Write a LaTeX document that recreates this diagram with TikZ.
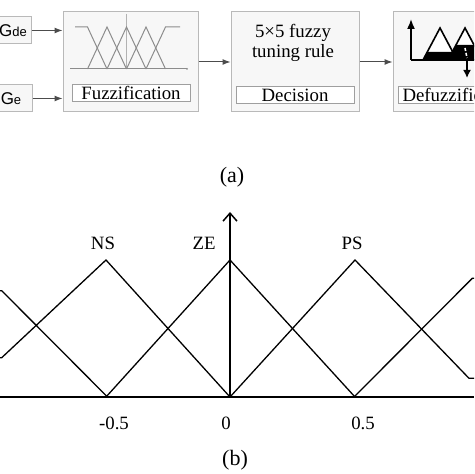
\documentclass[tikz,border=0pt]{standalone}
\usepackage{fontspec}
\setmainfont{Liberation Serif}
\setsansfont{Liberation Sans}
\usetikzlibrary{positioning,calc,arrows.meta}
\def\px{0.5pt}
\tikzset{
	bloc/.style={draw=gray!55,fill=gray!6,line width=0.5pt,minimum height=100*\px,inner sep=0pt},
	etiquette/.style={draw=gray!75,fill=white,line width=0.5pt,minimum height=17*\px,inner sep=0pt},
	entree/.style={draw=gray!55,fill=gray!6,line width=0.5pt,minimum height=27*\px,inner sep=0pt,font=\sffamily\fontsize{8.5}{9}\selectfont},
	fleche/.style={draw=gray!60!black,line width=0.5pt,-{Latex[length=4pt,width=3pt]}},
	fp/.style={line width=0.65pt,line join=miter}
}

\begin{document}
\begin{tikzpicture}[x=0.5pt,y=-0.5pt,font=\fontsize{9.4}{11}\selectfont]
\useasboundingbox (0,0) rectangle (474,474);
\clip (0,0) rectangle (474,474); % coupe ce qui depasse

%Schema (a)
\node[entree,minimum width=36*\px] (Gde) at (13,30.5) {G{\fontsize{6.5}{7}\selectfont de}};
\node[entree,minimum width=42*\px] (Ge) at (11,98.5) {G{\fontsize{6.5}{7}\selectfont e}};

\node[bloc,minimum width=135*\px] (fuzz) at (130.5,62) {};
\node[etiquette,minimum width=118*\px] (fuzzlab) at (131,93) {Fuzzification};

\node[bloc,minimum width=128*\px] (decision) at (295,62) {};
\node[align=center] (regle) at (293,43) {5×5 fuzzy\\[-1pt]tuning rule};
\node[etiquette,minimum width=118*\px] (declab) at (295,95) {Decision};

\node[bloc,minimum width=132*\px] (defuzz) at (459,62) {};
\node[etiquette,minimum width=126*\px] (defuzzlab) at (461,95) {Defuzzification};

%Fleches
\draw[fleche] (Gde.east) -- (Gde.east -| fuzz.west);
\draw[fleche] (Ge.east) -- (Ge.east -| fuzz.west);
\draw[fleche] (fuzz) -- (decision);
\draw[fleche] (decision) -- (defuzz);

%Fonctions d'appartenance (fuzzification)
\begin{scope}[gray!90,line width=0.5pt]
\draw (70,69) -- (187,69);
\fill (187,69) circle (1);
\draw[gray!60] (126.5,14) -- (126.5,69);
\draw (75,27) -- (87.5,27) -- (107,69);
\foreach \p in {107,126.5,146}
	\draw (\p-19.5,69) -- (\p,27) -- (\p+19.5,69);
\draw (146,69) -- (165.5,27) -- (180,27);
\end{scope}

%Defuzzification
\begin{scope}[line width=0.8pt]
\filldraw[fill=white] (423,60) -- (440,28) -- (457,60) -- cycle;
\filldraw[fill=white] (448,60) -- (465,28) -- (482,60) -- cycle;
\fill (423,60) -- (427.25,52) -- (452.5,52) -- (456,45) -- (474,45) -- (482,60) -- cycle;
\draw[-{Latex[length=5pt,width=4pt]}] (411,60) -- (411,19);
\draw (411,60) -- (423,60);
\draw[white,dash pattern=on 1.5pt off 1pt] (465,48) -- (467,58);
\draw[-{Latex[length=4pt,width=4pt]}] (467,60) -- (467,78);
\end{scope}

\node[font=\fontsize{11}{13}\selectfont] (a) at (232,177) {(a)};

%Axes
\draw[line width=0.75pt] (0,397) -- (474,397);
\draw[line width=0.75pt,-{Straight Barb[length=4pt,width=7pt]}] (230,397) -- (230,212);

%Formes
\draw[fp] (-5,290.7) -- (1.7,290.7) -- (107.5,397);
\draw[fp] (-5,357.7) -- (1.7,357.7) -- (106,260) -- (230,397);
\draw[fp] (106,397) -- (230,260) -- (355,397);
\draw[fp] (230,397) -- (355,260) -- (469,378.3) -- (480,378.3);
\draw[fp] (354,397) -- (472.3,278.3) -- (480,278.3);

\node (NS) at (103,243) {NS};
\node (ZE) at (204,243) {ZE};
\node (PS) at (352,243) {PS};

\node (mdemi) at (114,423) {-0.5};
\node (zero) at (226,423) {0};
\node (demi) at (363,423) {0.5};

\node[font=\fontsize{11}{13}\selectfont] (b) at (235,460) {(b)};
\end{tikzpicture}
\end{document}
